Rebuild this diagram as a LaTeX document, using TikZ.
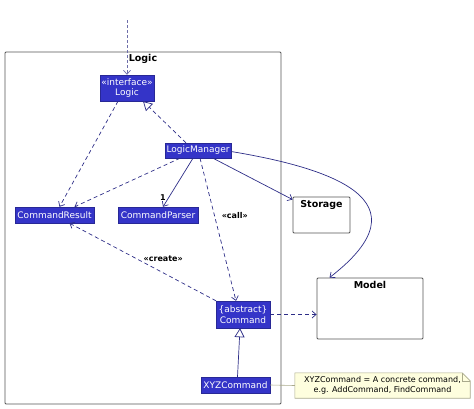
\documentclass[tikz,border=0pt]{standalone}
\usepackage{fontspec}
\setmainfont{DejaVu Sans}
\usetikzlibrary{arrows.meta}
\definecolor{clsfill}{RGB}{52,52,200}
\definecolor{clsline}{RGB}{40,40,150}
\definecolor{edge}{RGB}{45,45,135}
\definecolor{entryline}{RGB}{110,110,170}
\definecolor{pkgline}{RGB}{85,85,85}
\definecolor{notefill}{RGB}{254,254,222}
\definecolor{noteline}{RGB}{170,170,140}
\tikzset{
  cls/.style={draw=clsline, fill=clsfill, text=white, font=\fontsize{9}{10.5}\selectfont, inner sep=0pt, align=center},
  pkg/.style={draw=pkgline, line width=0.9pt, rounded corners=1pt, inner sep=0pt},
  ttl/.style={font=\bfseries\fontsize{9.5}{11}\selectfont, inner sep=0pt},
  lbl/.style={font=\bfseries\fontsize{8}{9}\selectfont, inner sep=1pt},
  dep/.style={draw=edge, line width=0.7pt, dashed, dash pattern=on 4pt off 3pt, -{Straight Barb[length=4pt,width=7pt]}},
  assoc/.style={draw=edge, line width=0.7pt, -{Straight Barb[length=4pt,width=7pt]}},
  real/.style={draw=edge, line width=0.7pt, dashed, dash pattern=on 4pt off 3pt, -{Triangle[open,length=9pt,width=10pt,fill=white]}},
  inh/.style={draw=edge, line width=0.7pt, -{Triangle[open,length=9pt,width=10pt,fill=white]}},
  notetext/.style={minimum width=175pt, minimum height=25pt, inner sep=0pt, align=center, font=\fontsize{8}{9.5}\selectfont},
}
\begin{document}
\begin{tikzpicture}[x=1pt,y=-1pt]
\useasboundingbox (0,0) rectangle (474,408);
% packages
\node[pkg, minimum width=276pt, minimum height=352pt] (logicpkg) at (143,228) {};
\node[ttl] (logicttl) at (143,59) {Logic};
\node[pkg, minimum width=57pt, minimum height=36pt] (storage) at (321.5,215) {};
\node[ttl, anchor=north] (storagettl) at ([yshift=-4pt]storage.north) {Storage};
\node[pkg, minimum width=106pt, minimum height=61pt] (model) at (370,308.5) {};
\node[ttl, anchor=north] (modelttl) at ([yshift=-4pt]model.north) {Model};
% classes
\node[cls, minimum width=54pt, minimum height=26pt] (logic) at (127,88) {«interface»\\Logic};
\node[cls, minimum width=66pt, minimum height=15pt] (lm) at (198,150.5) {LogicManager};
\node[cls, minimum width=79pt, minimum height=16pt] (cr) at (54.5,215) {CommandResult};
\node[cls, minimum width=80pt, minimum height=16pt] (cp) at (158,215) {CommandParser};
\node[cls, minimum width=54pt, minimum height=27pt] (cmd) at (243,314.5) {\{abstract\}\\Command};
\node[cls, minimum width=69pt, minimum height=16pt] (xyz) at (235.5,385) {XYZCommand};
% note
\node[notetext] (note) at (382.5,385.5) {};
\path[fill=notefill, draw=noteline, line width=0.6pt] (note.south west) -- (note.north west) -- ([xshift=-8pt]note.north east) -- ([yshift=-8pt]note.north east) -- (note.south east) -- cycle;
\draw[noteline, line width=0.6pt] ([xshift=-8pt]note.north east) -- ([xshift=-8pt,yshift=-8pt]note.north east) -- ([yshift=-8pt]note.north east);
\node[notetext] (notelabel) at (note.center) {XYZCommand = A concrete command,\\e.g. AddCommand, FindCommand};
% entry
\coordinate (entry) at (127,20);
\draw[dep, draw=entryline, dash pattern=on 3pt off 2pt] (entry) -- (logic.north);
% connectors
\draw[dep] ([xshift=-9pt]logic.south) -- ([xshift=5pt]cr.north);
\draw[real] ([xshift=-12pt]lm.north) -- ([xshift=16pt]logic.south);
\draw[dep] ([xshift=-18pt]lm.south) -- ([xshift=20pt]cr.north);
\draw[assoc] ([xshift=-5pt]lm.south) -- node[lbl, pos=0.8, left=2pt] {1} ([xshift=5pt]cp.north);
\draw[dep] ([xshift=2pt]lm.south) -- node[lbl, pos=0.4, right=6pt] {«call»} ([xshift=-7pt]cmd.north);
\draw[assoc] ([xshift=15pt]lm.south) -- ([yshift=-3pt]storage.north west);
\draw[assoc] ([yshift=-1pt]lm.east) .. controls (330,168) and (430,200) .. ([xshift=13pt]model.north west);
\draw[dep] ([xshift=-27pt]cmd.north) -- node[lbl, pos=0.36, above=10pt] {«create»} ([xshift=15pt]cr.south);
\draw[dep] (cmd.east) -- (model.west |- cmd.east);
\draw[inh] ([xshift=2pt]xyz.north) -- ([xshift=-3pt]cmd.south);
\draw[noteline, line width=0.6pt] (xyz.east) -- (note.west);
\end{tikzpicture}
\end{document}
